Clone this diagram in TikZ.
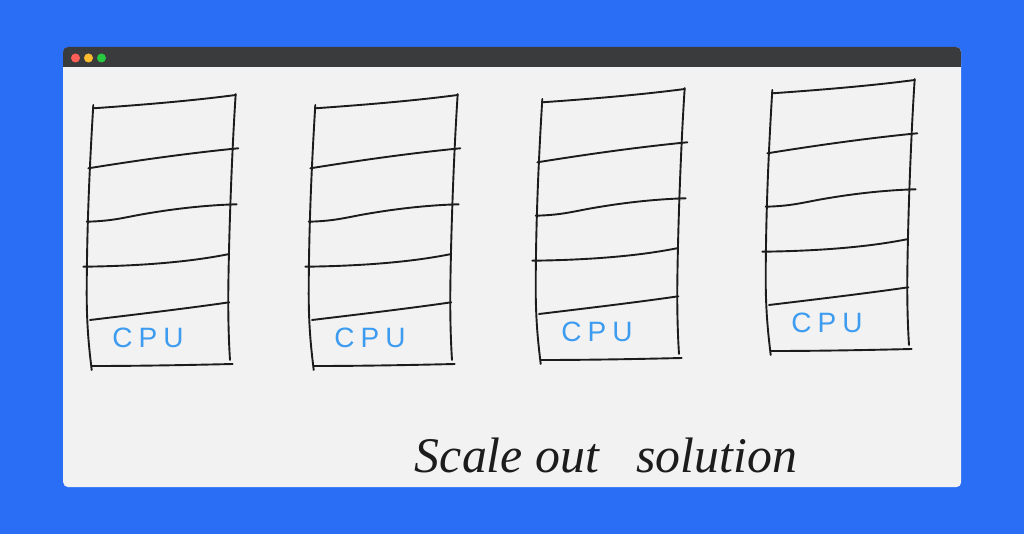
\documentclass[tikz,border=0pt]{standalone}
\usepackage{fontspec}
\setmainfont{Liberation Serif}
\newfontfamily\cpufont[LetterSpace=22]{Liberation Sans}
\definecolor{bgblue}{HTML}{2A6EF6}
\definecolor{winbg}{HTML}{F2F2F2}
\definecolor{barbg}{HTML}{3A3B3C}
\definecolor{dred}{HTML}{FF5F57}
\definecolor{dyel}{HTML}{FEBC2E}
\definecolor{dgrn}{HTML}{28C840}
\definecolor{ink}{HTML}{1C1C1C}
\definecolor{cpublue}{HTML}{3D9CF0}
\tikzset{
  pen/.style={draw=ink, line width=1.9pt, line cap=round, line join=round},
  cpulabel/.style={text=cpublue, font=\cpufont\fontsize{28}{28}\selectfont, inner sep=0pt},
  dot/.style={circle, minimum size=9pt, inner sep=0pt},
  rack/.pic={
    % top
    \draw[pen] (93.3,108.3) .. controls (140,105) and (190,101) .. (235.7,95);
    % left side
    \draw[pen] (93.3,105) .. controls (90,160) and (87,220) .. (86.7,290) .. controls (86.5,330) and (90,355) .. (91.7,370);
    % right side
    \draw[pen] (235.7,94) .. controls (232,150) and (229,230) .. (228.3,290) .. controls (228,320) and (229,345) .. (230,360);
    % shelves
    \draw[pen] (88.3,168.3) .. controls (140,160) and (190,153) .. (238.3,148.3);
    \draw[pen] (86.7,221.7) .. controls (115,221) and (125,217) .. (150,213) .. controls (180,208) and (210,205) .. (236.7,204.3);
    \draw[pen] (83.3,266.7) .. controls (140,266) and (190,262) .. (229.3,254);
    \draw[pen] (90,320) .. controls (140,314) and (190,308) .. (229.3,302.3);
    % bottom
    \draw[pen] (91.7,366) .. controls (140,366) and (190,365) .. (232.7,364);
    \node[cpulabel] (-cpu) at (148,338) {CPU};
  }
}
\begin{document}
\begin{tikzpicture}[x=1pt,y=-1pt]
\useasboundingbox (0,0) rectangle (1024,534);
\fill[bgblue] (0,0) rectangle (1024,534);
\node[fill=winbg, rounded corners=5pt, minimum width=898pt, minimum height=440pt, inner sep=0pt, anchor=north west] (win) at (63,47) {};
\fill[barbg, rounded corners=5pt] (63,67) -- (63,47) -- (961,47) -- (961,67) -- cycle;
\fill[barbg] (63,60) rectangle (961,67);
\node[dot, fill=dred] (d1) at (75.5,58) {};
\node[dot, fill=dyel] (d2) at (88.5,58) {};
\node[dot, fill=dgrn] (d3) at (101.5,58) {};
\pic (r1) at (0,0) {rack};
\pic (r2) at (222,0) {rack};
\pic (r3) at (449,-6) {rack};
\pic (r4) at (679,-15) {rack};
\node[anchor=base, inner sep=0pt, text=ink] (cap) at (606,472) {\resizebox{382pt}{!}{\fontsize{40}{40}\selectfont\itshape Scale out\hspace{0.5em} solution}};
\end{tikzpicture}
\end{document}
